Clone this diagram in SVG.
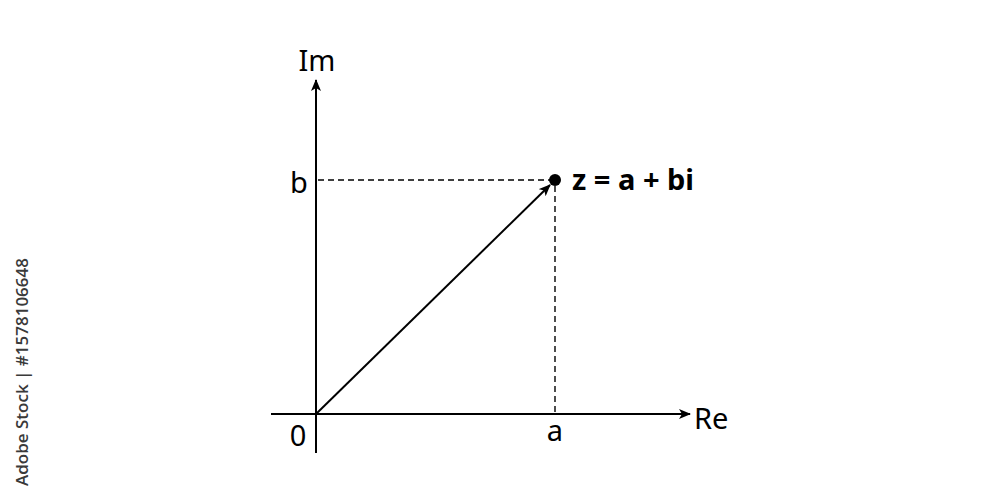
<svg xmlns="http://www.w3.org/2000/svg" width="1000" height="503" viewBox="0 0 1000 503">
<defs>
<style>
.ax{stroke:#000;stroke-width:2;fill:none}
.dash{stroke:#000;stroke-width:1.4;stroke-dasharray:6 4;fill:none}
.lbl{font-family:"Noto Sans","DejaVu Sans",sans-serif;font-size:29px;fill:#000}
.bold{font-weight:bold}
.wm{font-family:"Open Sans","Noto Sans",sans-serif;font-size:17px;font-weight:600;fill:#3a3a3a}
</style>
<marker id="arr" viewBox="0 0 12 10" refX="11" refY="5" markerWidth="12" markerHeight="10" markerUnits="userSpaceOnUse" orient="auto">
<path d="M0,0 L12,5 L0,10 L3,5 Z" fill="#000"/>
</marker>
</defs>
<rect width="1000" height="503" fill="#fff"/>
<g id="connectors">
<line class="ax" x1="316" y1="453" x2="316" y2="80" marker-end="url(#arr)"/>
<line class="ax" x1="271" y1="414" x2="690" y2="414" marker-end="url(#arr)"/>
<line class="dash" x1="318" y1="180" x2="550" y2="180"/>
<line class="dash" x1="555" y1="186" x2="555" y2="413"/>
<line class="ax" x1="316" y1="414" x2="550" y2="185" marker-end="url(#arr)"/>
</g>
<g id="point-z">
<circle cx="555" cy="180" r="6" fill="#000"/>
<text class="lbl bold" x="572" y="190">z = a + bi</text>
</g>
<g id="labels">
<text class="lbl" x="317" y="71" text-anchor="middle">Im</text>
<text class="lbl" x="299" y="193" text-anchor="middle">b</text>
<text class="lbl" x="298" y="446" text-anchor="middle">0</text>
<text class="lbl" x="555" y="441" text-anchor="middle">a</text>
<text class="lbl" x="694" y="429">Re</text>
</g>
<text class="wm" transform="translate(28,372) rotate(-90)" text-anchor="middle">Adobe Stock | #1578106648</text>
</svg>
